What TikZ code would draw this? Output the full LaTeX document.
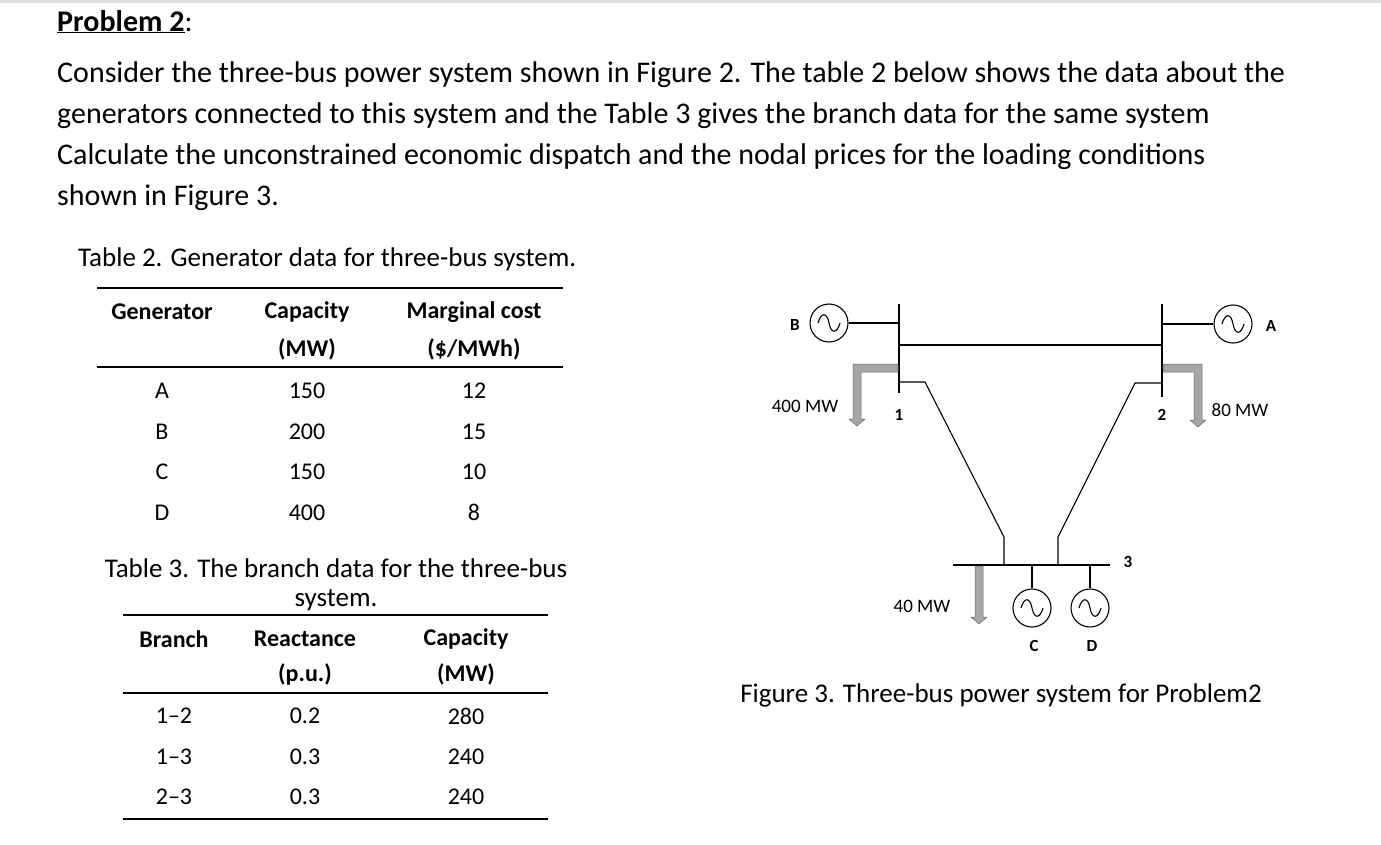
\documentclass[tikz,border=0pt]{standalone}
\usepackage{fontspec}
\setmainfont{Carlito}
\usetikzlibrary{calc}
\begin{document}
\begin{tikzpicture}[x=1pt,y=-1pt,
  txt/.style={inner sep=0pt,font=\fontsize{30}{36}\selectfont},
  captxt/.style={inner sep=0pt,font=\fontsize{27}{32}\selectfont},
  tb/.style={inner sep=0pt,font=\fontsize{24}{28}\selectfont},
  tbh/.style={inner sep=0pt,font=\fontsize{24}{28}\selectfont\bfseries},
  lab/.style={inner sep=0pt,font=\fontsize{19}{22}\selectfont},
  labb/.style={inner sep=0pt,font=\fontsize{17}{20}\selectfont\bfseries},
  rule/.style={line width=2.6pt},
  bus/.style={line width=2.6pt},
  wire/.style={line width=1.1pt},
  gen/.style={circle,draw,line width=1.1pt,minimum size=38pt,inner sep=0pt},
  loadarr/.style={draw=black!60,line width=0.5pt,fill=black!35}]
\useasboundingbox (0,0) rectangle (1381,844);
\fill[black!12] (0,0) rectangle (1381,3);
% header text
\node[txt,anchor=base west,font=\fontsize{30}{36}\selectfont\bfseries] (title) at (57,31) {\underline{Problem 2}\mdseries:};
\node[txt,anchor=base west] (p1) at (57,82) {Consider the three-bus power system shown in Figure 2. The table 2 below shows the data about the};
\node[txt,anchor=base west] (p2) at (57,123) {generators connected to this system and the Table 3 gives the branch data for the same system};
\node[txt,anchor=base west] (p3) at (57,164) {Calculate the unconstrained economic dispatch and the nodal prices for the loading conditions};
\node[txt,anchor=base west] (p4) at (57,205) {shown in Figure 3.};
% Table 2
\node[captxt,anchor=base west] (t2c) at (78,266) {Table 2. Generator data for three-bus system.};
\draw[rule] (97,288) -- (563,288);
\draw[rule] (97,367) -- (563,367);
\node[tbh] at (162,312) {Generator};
\node[tbh] at (307,312) {Capacity};
\node[tbh] at (307,349) {(MW)};
\node[tbh] at (474,312) {Marginal cost};
\node[tbh] at (474,349) {(\$/MWh)};
\foreach \g/\c/\m [count=\i] in {A/150/12,B/200/15,C/150/10,D/400/8}{
  \node[tb] at (162,{391+40.5*(\i-1)}) {\g};
  \node[tb] at (307,{391+40.5*(\i-1)}) {\c};
  \node[tb] at (474,{391+40.5*(\i-1)}) {\m};
}
% Table 3
\node[captxt] (t3c) at (336,568) {Table 3. The branch data for the three-bus};
\node[captxt] (t3d) at (336,600) {system.};
\draw[rule] (123,615) -- (548,615);
\draw[rule] (123,693) -- (548,693);
\draw[rule] (123,819) -- (548,819);
\node[tbh] at (174,639) {Branch};
\node[tbh] at (305,639) {Reactance};
\node[tbh] at (305,674) {(p.u.)};
\node[tbh] at (466,639) {Capacity};
\node[tbh] at (466,674) {(MW)};
\foreach \b/\x/\c [count=\i] in {1--2/0.2/280,1--3/0.3/240,2--3/0.3/240}{
  \node[tb] at (174,{716+40.5*(\i-1)}) {\b};
  \node[tb] at (305,{716+40.5*(\i-1)}) {\x};
  \node[tb] at (466,{716+40.5*(\i-1)}) {\c};
}
% Figure 3
\coordinate (b1t) at (899,304); \coordinate (b1b) at (899,393);
\coordinate (b2t) at (1162,304); \coordinate (b2b) at (1162,397);
\coordinate (b3l) at (953,565); \coordinate (b3r) at (1110,565);
\draw[bus] (b1t) -- (b1b);
\draw[bus] (b2t) -- (b2b);
\draw[bus] (b3l) -- (b3r);
\newcommand{\mysine}[1]{\draw[line width=1.1pt] ($(#1)+(-11,0)$) .. controls ($(#1)+(-8,-11)$) and ($(#1)+(-2,-11)$) .. (#1) .. controls ($(#1)+(2,11)$) and ($(#1)+(8,11)$) .. ($(#1)+(11,0)$);}
\node[gen] (gB) at (829,323) {};
\node[gen] (gA) at (1233,324) {};
\node[gen] (gC) at (1032,608) {};
\node[gen] (gD) at (1090,608) {};
\mysine{gB.center}\mysine{gA.center}\mysine{gC.center}\mysine{gD.center}
\draw[wire] (gB.east) -- (899,323);
\draw[wire] (gA.west) -- (1162,324);
\draw[wire] (gC.north) -- (1032,565);
\draw[wire] (gD.north) -- (1090,565);
\draw[wire] (899,345) -- (1162,345);
\draw[wire] (899,382) -- (925,382) -- (1004,537) -- (1004,565);
\draw[wire] (1162,383) -- (1135,383) -- (1058,537) -- (1058,565);
% loads
\filldraw[loadarr] (898,364) -- (853,364) -- (853,419) -- (849,419) -- (857,426) -- (865,419) -- (861,419) -- (861,372) -- (898,372) -- cycle;
\filldraw[loadarr] (1163,364) -- (1202,364) -- (1202,420) -- (1206,420) -- (1198,427) -- (1190,420) -- (1194,420) -- (1194,372) -- (1163,372) -- cycle;
\filldraw[loadarr] (975,566) -- (983,566) -- (983,617) -- (987,617) -- (979,624) -- (971,617) -- (975,617) -- cycle;
% labels
\node[labb] at (795,325) {B};
\node[labb] at (1271,326) {A};
\node[labb] at (899,415) {1};
\node[labb] at (1162,415) {2};
\node[labb] at (1128,562) {3};
\node[labb] at (1034,646) {C};
\node[labb] at (1092,646) {D};
\node[lab] at (805,406) {400 MW};
\node[lab] at (1240,410) {80 MW};
\node[lab] at (922,606) {40 MW};
\node[captxt] (f3c) at (1001,695) {Figure 3. Three-bus power system for Problem2};
\end{tikzpicture}
\end{document}
